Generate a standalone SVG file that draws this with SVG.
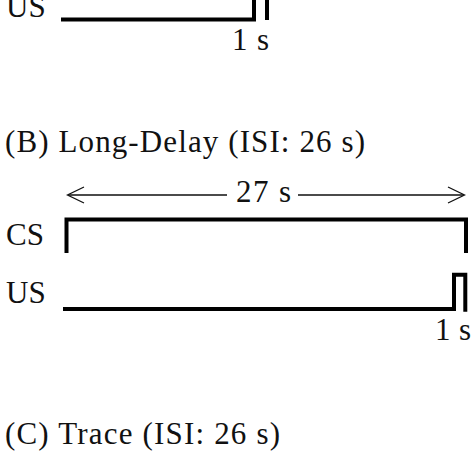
<svg xmlns="http://www.w3.org/2000/svg" width="474" height="474" viewBox="0 0 474 474">
<style>
text{font-family:"Liberation Serif","Times New Roman",serif;fill:#111;font-size:31px}
.sig{fill:none;stroke:#000;stroke-width:4;stroke-linejoin:miter;stroke-linecap:butt}
.dim{fill:none;stroke:#111;stroke-width:1.3}
</style>
<rect width="474" height="474" fill="#fff"/>
<g id="panelA">
<text x="6" y="17">US</text>
<path class="sig" d="M61 19.5 H254 V0"/>
<path class="sig" d="M267 0 V20"/>
<text x="232" y="50" textLength="37">1 s</text>
</g>
<g id="panelB">
<text x="5" y="151.5" textLength="360" lengthAdjust="spacing">(B) Long-Delay (ISI: 26 s)</text>
<text x="236" y="201.5" textLength="55">27 s</text>
<text x="6" y="245">CS</text>
<path class="sig" d="M66.5 253 V219.5 H466 V253"/>
<text x="6" y="303">US</text>
<path class="sig" d="M63 309 H454 V274.7 H465.3 V311.7"/>
<text x="435" y="340" textLength="36">1 s</text>
</g>
<g id="connectors">
<path class="dim" d="M68 195 H227 M298 195 H464"/>
<path class="dim" d="M84 187 L67.5 195 L84 203"/>
<path class="dim" d="M448 187 L464.5 195 L448 203"/>
</g>
<g id="panelC">
<text x="5" y="443.5" textLength="275" lengthAdjust="spacing">(C) Trace (ISI: 26 s)</text>
</g>
</svg>
